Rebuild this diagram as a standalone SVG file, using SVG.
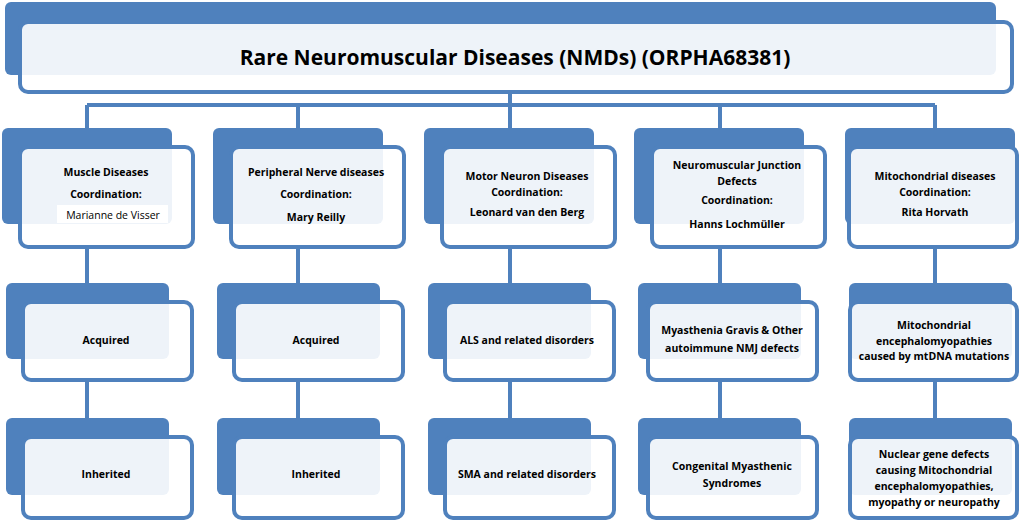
<svg xmlns="http://www.w3.org/2000/svg" width="1024" height="523" viewBox="0 0 1024 523">
<style>
.b{fill:#4f81bd;}
.f{fill:#ffffff;fill-opacity:0.9;stroke:#4f81bd;stroke-width:4;}
.c{stroke:#4f81bd;stroke-width:4;fill:none;}
text{font-family:"Open Sans","Liberation Sans",sans-serif;font-weight:bold;font-size:10.5px;fill:#000;text-anchor:middle;}
.t{font-size:21px;}
</style>
<rect width="1024" height="523" fill="#fff"/>
<g id="connectors">
<path class="c" d="M510 92V105M87 105H935M87 105V128M298 105V128M510 105V128M720 105V128M935 105V128"/>
<path class="c" d="M87 247V283M298 247V283M510 247V283M720 247V283M935 247V283M87 380V418M298 380V418M510 380V418M720 380V418M935 380V418"/>
</g>
<g id="title"><rect class="b" x="5" y="2" width="991" height="73" rx="6"/><rect class="f" x="20" y="22" width="992" height="70" rx="8"/><text class="t" x="515" y="65">Rare Neuromuscular Diseases (NMDs) (ORPHA68381)</text></g>
<g id="n1"><rect class="b" x="2" y="128" width="170" height="96" rx="6"/><rect class="f" x="20" y="147" width="173" height="100" rx="8"/><text x="106" y="176">Muscle Diseases</text><text x="106" y="198">Coordination:</text><rect x="57" y="205" width="111" height="18" fill="#fff"/><text x="113" y="219" style="font-weight:normal">Marianne de Visser</text></g>
<g id="n2"><rect class="b" x="213" y="128" width="170" height="96" rx="6"/><rect class="f" x="231" y="147" width="173" height="100" rx="8"/><text x="316" y="176">Peripheral Nerve diseases</text><text x="316" y="198">Coordination:</text><text x="316" y="221">Mary Reilly</text></g>
<g id="n3"><rect class="b" x="424" y="128" width="170" height="96" rx="6"/><rect class="f" x="442" y="147" width="173" height="100" rx="8"/><text x="527" y="180">Motor Neuron Diseases</text><text x="527" y="196">Coordination:</text><text x="527" y="216">Leonard van den Berg</text></g>
<g id="n4"><rect class="b" x="634" y="128" width="170" height="96" rx="6"/><rect class="f" x="652" y="147" width="173" height="100" rx="8"/><text x="737" y="169">Neuromuscular Junction</text><text x="737" y="185">Defects</text><text x="737" y="204">Coordination:</text><text x="737" y="228">Hanns Lochmüller</text></g>
<g id="n5"><rect class="b" x="845" y="128" width="170" height="96" rx="6"/><rect class="f" x="849" y="147" width="168" height="100" rx="8"/><text x="935" y="180">Mitochondrial diseases</text><text x="935" y="196">Coordination:</text><text x="935" y="216">Rita Horvath</text></g>
<g id="a1"><rect class="b" x="6" y="283" width="163" height="76" rx="6"/><rect class="f" x="23" y="302" width="169" height="78" rx="8"/><text x="106" y="344">Acquired</text></g>
<g id="a2"><rect class="b" x="217" y="283" width="163" height="76" rx="6"/><rect class="f" x="234" y="302" width="169" height="78" rx="8"/><text x="316" y="344">Acquired</text></g>
<g id="a3"><rect class="b" x="428" y="283" width="163" height="76" rx="6"/><rect class="f" x="445" y="302" width="169" height="78" rx="8"/><text x="527" y="344">ALS and related disorders</text></g>
<g id="a4"><rect class="b" x="638" y="283" width="163" height="76" rx="6"/><rect class="f" x="648" y="302" width="169" height="78" rx="8"/><text x="732" y="334">Myasthenia Gravis &amp; Other</text><text x="732" y="352">autoimmune NMJ defects</text></g>
<g id="a5"><rect class="b" x="849" y="283" width="163" height="76" rx="6"/><rect class="f" x="850" y="302" width="167" height="78" rx="8"/><text x="934" y="329">Mitochondrial</text><text x="934" y="345">encephalomyopathies</text><text x="934" y="360">caused by mtDNA mutations</text></g>
<g id="i1"><rect class="b" x="6" y="418" width="163" height="77" rx="6"/><rect class="f" x="23" y="437" width="169" height="81" rx="8"/><text x="106" y="478">Inherited</text></g>
<g id="i2"><rect class="b" x="217" y="418" width="163" height="77" rx="6"/><rect class="f" x="234" y="437" width="169" height="81" rx="8"/><text x="316" y="478">Inherited</text></g>
<g id="i3"><rect class="b" x="428" y="418" width="163" height="77" rx="6"/><rect class="f" x="445" y="437" width="169" height="81" rx="8"/><text x="527" y="478">SMA and related disorders</text></g>
<g id="i4"><rect class="b" x="638" y="418" width="163" height="77" rx="6"/><rect class="f" x="648" y="437" width="169" height="81" rx="8"/><text x="732" y="470">Congenital Myasthenic</text><text x="732" y="487">Syndromes</text></g>
<g id="i5"><rect class="b" x="849" y="418" width="163" height="77" rx="6"/><rect class="f" x="850" y="437" width="167" height="81" rx="8"/><text x="934" y="458">Nuclear gene defects</text><text x="934" y="474">causing Mitochondrial</text><text x="934" y="490">encephalomyopathies,</text><text x="934" y="506">myopathy or neuropathy</text></g>
</svg>
